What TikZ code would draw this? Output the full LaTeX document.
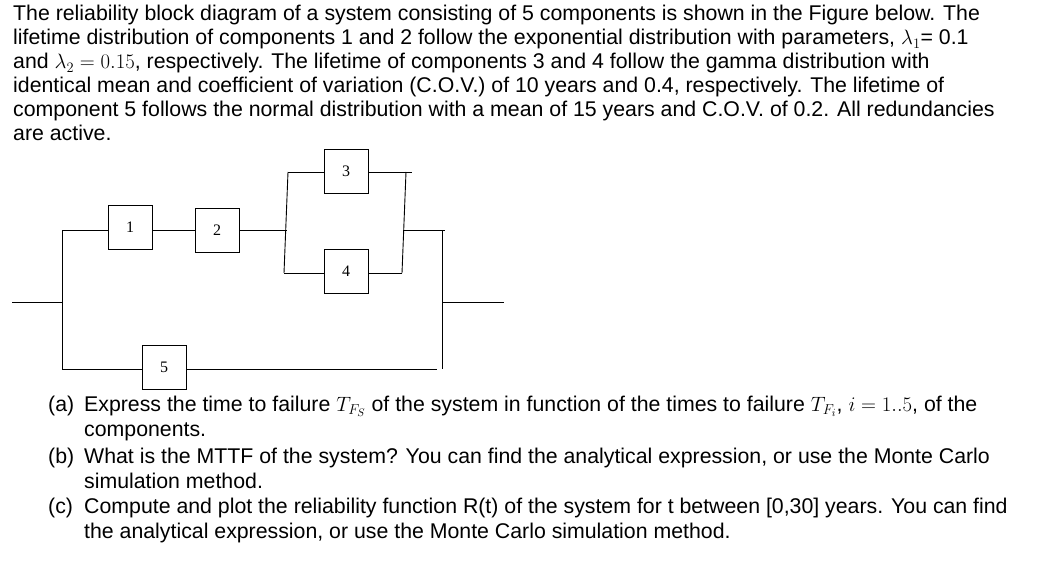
\documentclass[tikz,border=0pt]{standalone}
\usepackage{fontspec}
\setmainfont{Liberation Sans}
\newfontfamily\boxfont{Liberation Serif}
\begin{document}
\begin{tikzpicture}[x=1pt,y=-1pt,
  txt/.style={anchor=base west,inner sep=0pt,font=\fontsize{21.3}{24}\selectfont},
  blk/.style={draw,line width=0.8pt,minimum width=44pt,minimum height=44pt,inner sep=0pt,font=\boxfont\fontsize{16}{18}\selectfont},
  wire/.style={line width=0.9pt}]
\useasboundingbox (0,0) rectangle (1046,564);
\node[txt] (t1) at (13,21) {The reliability block diagram of a system consisting of 5 components is shown in the Figure below. The};
\node[txt] (t2) at (13,45) {lifetime distribution of components 1 and 2 follow the exponential distribution with parameters, $\lambda_1$= 0.1};
\node[txt] (t3) at (13,69) {and $\lambda_2$ $=0.15$, respectively. The lifetime of components 3 and 4 follow the gamma distribution with};
\node[txt] (t4) at (13,93) {identical mean and coefficient of variation (C.O.V.) of 10 years and 0.4, respectively. The lifetime of};
\node[txt] (t5) at (13,117) {component 5 follows the normal distribution with a mean of 15 years and C.O.V. of 0.2. All redundancies};
\node[txt] (t6) at (13,141) {are active.};

\node[blk] (b1) at (130,227) {1};
\node[blk] (b2) at (217,230) {2};
\node[blk] (b3) at (346,171) {3};
\node[blk] (b4) at (346,271) {4};
\node[blk] (b5) at (164,367) {5};

\coordinate (inL) at (12,302);
\coordinate (jL) at (62,302);
\coordinate (jLt) at (62,230);
\coordinate (jLb) at (62,369);
\coordinate (p2) at (287,230);
\coordinate (pLt) at (288,172);
\coordinate (pLb) at (284,273);
\coordinate (r3) at (412,172);
\coordinate (pRt) at (406,172);
\coordinate (pRb) at (402,273);
\coordinate (pRm) at (404,230);
\coordinate (oR) at (445,230);
\coordinate (jRt) at (442,230);
\coordinate (jRb) at (442,369);
\coordinate (e5) at (437,369);
\coordinate (jR) at (442,302);
\coordinate (outR) at (504,302);

\draw[wire] (inL) -- (jL);
\draw[wire] (jLt) -- (jLb);
\draw[wire] (jLt) -- (b1.west |- jLt);
\draw[wire] (b1.east |- jLt) -- (b2.west |- jLt);
\draw[wire] (b2.east |- jLt) -- (p2);
\draw[wire] (pLt) -- (pLb);
\draw[wire] (pLt) -- (b3.west |- pLt);
\draw[wire] (pLb) -- (b4.west |- pLb);
\draw[wire] (b3.east |- pLt) -- (r3);
\draw[wire] (pRt) -- (pRb);
\draw[wire] (b4.east |- pRb) -- (pRb);
\draw[wire] (pRm) -- (oR);
\draw[wire] (jRt) -- (jRb);
\draw[wire] (jLb) -- (b5.west |- jLb);
\draw[wire] (b5.east |- jLb) -- (e5);
\draw[wire] (jR) -- (outR);

\node[txt] (a) at (48,411) {(a)};
\node[txt] (at) at (84,411) {Express the time to failure $T_{F_S}$ of the system in function of the times to failure $T_{F_i}$, $i=1..5$, of the};
\node[txt] (a2) at (84,436) {components.};
\node[txt] (b) at (48,463) {(b)};
\node[txt] (bt) at (84,463) {What is the MTTF of the system? You can find the analytical expression, or use the Monte Carlo};
\node[txt] (b2t) at (84,488) {simulation method.};
\node[txt] (c) at (48,513) {(c)};
\node[txt] (ct) at (84,513) {Compute and plot the reliability function R(t) of the system for t between [0,30] years. You can find};
\node[txt] (c2) at (84,538) {the analytical expression, or use the Monte Carlo simulation method.};
\end{tikzpicture}
\end{document}
